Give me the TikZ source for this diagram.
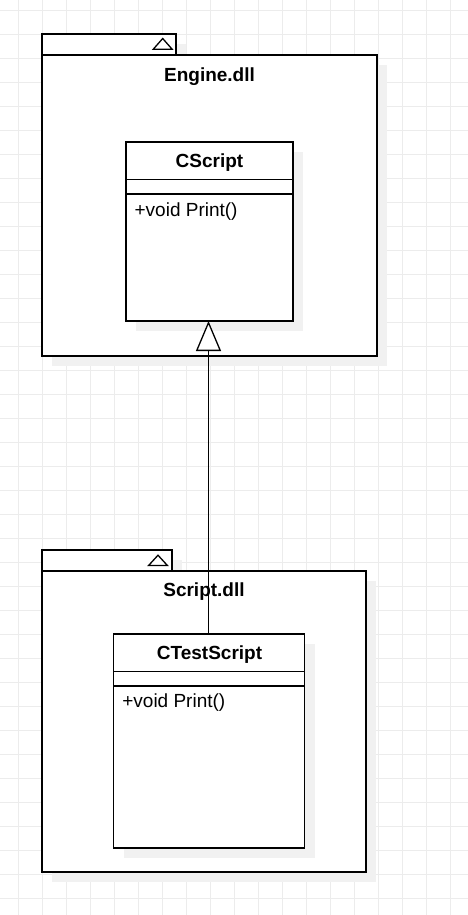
\documentclass[tikz,border=0pt]{standalone}
\usepackage{fontspec}
\setmainfont{Liberation Sans}
\usetikzlibrary{arrows.meta,shadows}
\definecolor{gridc}{HTML}{ECECEC}
\definecolor{shadowc}{HTML}{F1F1F1}
\begin{document}
\begin{tikzpicture}[x=1pt,y=-1pt,
  line width=1.3pt,
  gridline/.style={draw=gridc,line width=1pt},
  boxshape/.style={draw=black,fill=white,inner sep=0pt,outer sep=0pt,
    general shadow={fill=shadowc,draw=none,shadow xshift=10pt,shadow yshift=-10pt}},
  pkgname/.style={font=\fontsize{19}{22}\selectfont\bfseries,anchor=base,inner sep=0pt},
  clsname/.style={font=\fontsize{19}{22}\selectfont\bfseries,anchor=base,inner sep=0pt},
  member/.style={font=\fontsize{19}{22}\selectfont,anchor=base west,inner sep=0pt},
  tabmark/.style={draw=black,line width=1.3pt,line join=miter},
  inherit/.style={draw=black,line width=1.3pt,-{Triangle[length=30pt,width=25pt,fill=white,line join=miter]}}
]
\useasboundingbox (0,0) rectangle (468,915);
\fill[white] (0,0) rectangle (468,915);
% grid
\foreach \k in {0,...,18} {\draw[gridline] (18.3+24*\k,0) -- (18.3+24*\k,915);}
\foreach \k in {0,...,37} {\draw[gridline] (0,10.3+24*\k) -- (468,10.3+24*\k);}

% Engine.dll package
\node[boxshape,minimum width=134pt,minimum height=21pt] (engtab) at (109,44.5) {};
\node[boxshape,minimum width=335pt,minimum height=301pt] (eng) at (209.5,205.5) {};
\draw[tabmark] (162.7,38.5) -- (172.2,49.3) -- (153.2,49.3) -- cycle;
\node[pkgname] (engname) at (209.5,81.3) {Engine.dll};

% CScript class
\node[boxshape,minimum width=167pt,minimum height=179pt] (cscript) at (209.5,231.5) {};
\draw (cscript.north west |- 0,179.3) -- (cscript.north east |- 0,179.3);
\draw (cscript.north west |- 0,194) -- (cscript.north east |- 0,194);
\node[clsname] (cscriptname) at (209.5,167.3) {CScript};
\node[member] (cscriptop) at (134,216.7) {+void Print()};

% Script.dll package
\node[boxshape,minimum width=130pt,minimum height=21pt] (scrtab) at (107,560.5) {};
\node[boxshape,minimum width=324pt,minimum height=301pt] (scr) at (204,721.5) {};
\draw[tabmark] (158,555.2) -- (167.4,565.5) -- (148.6,565.5) -- cycle;
\node[pkgname] (scrname) at (204,596.7) {Script.dll};

% CTestScript class
\node[boxshape,minimum width=191pt,minimum height=214pt] (ctest) at (209.3,741) {};
\draw (ctest.north west |- 0,671.3) -- (ctest.north east |- 0,671.3);
\draw (ctest.north west |- 0,686) -- (ctest.north east |- 0,686);
\node[clsname] (ctestname) at (209.5,659) {CTestScript};
\node[member] (ctestop) at (121.7,707.7) {+void Print()};

% generalization
\draw[inherit] (ctest.north -| 208.5,0) -- (cscript.south -| 208.5,0);
\end{tikzpicture}
\end{document}
